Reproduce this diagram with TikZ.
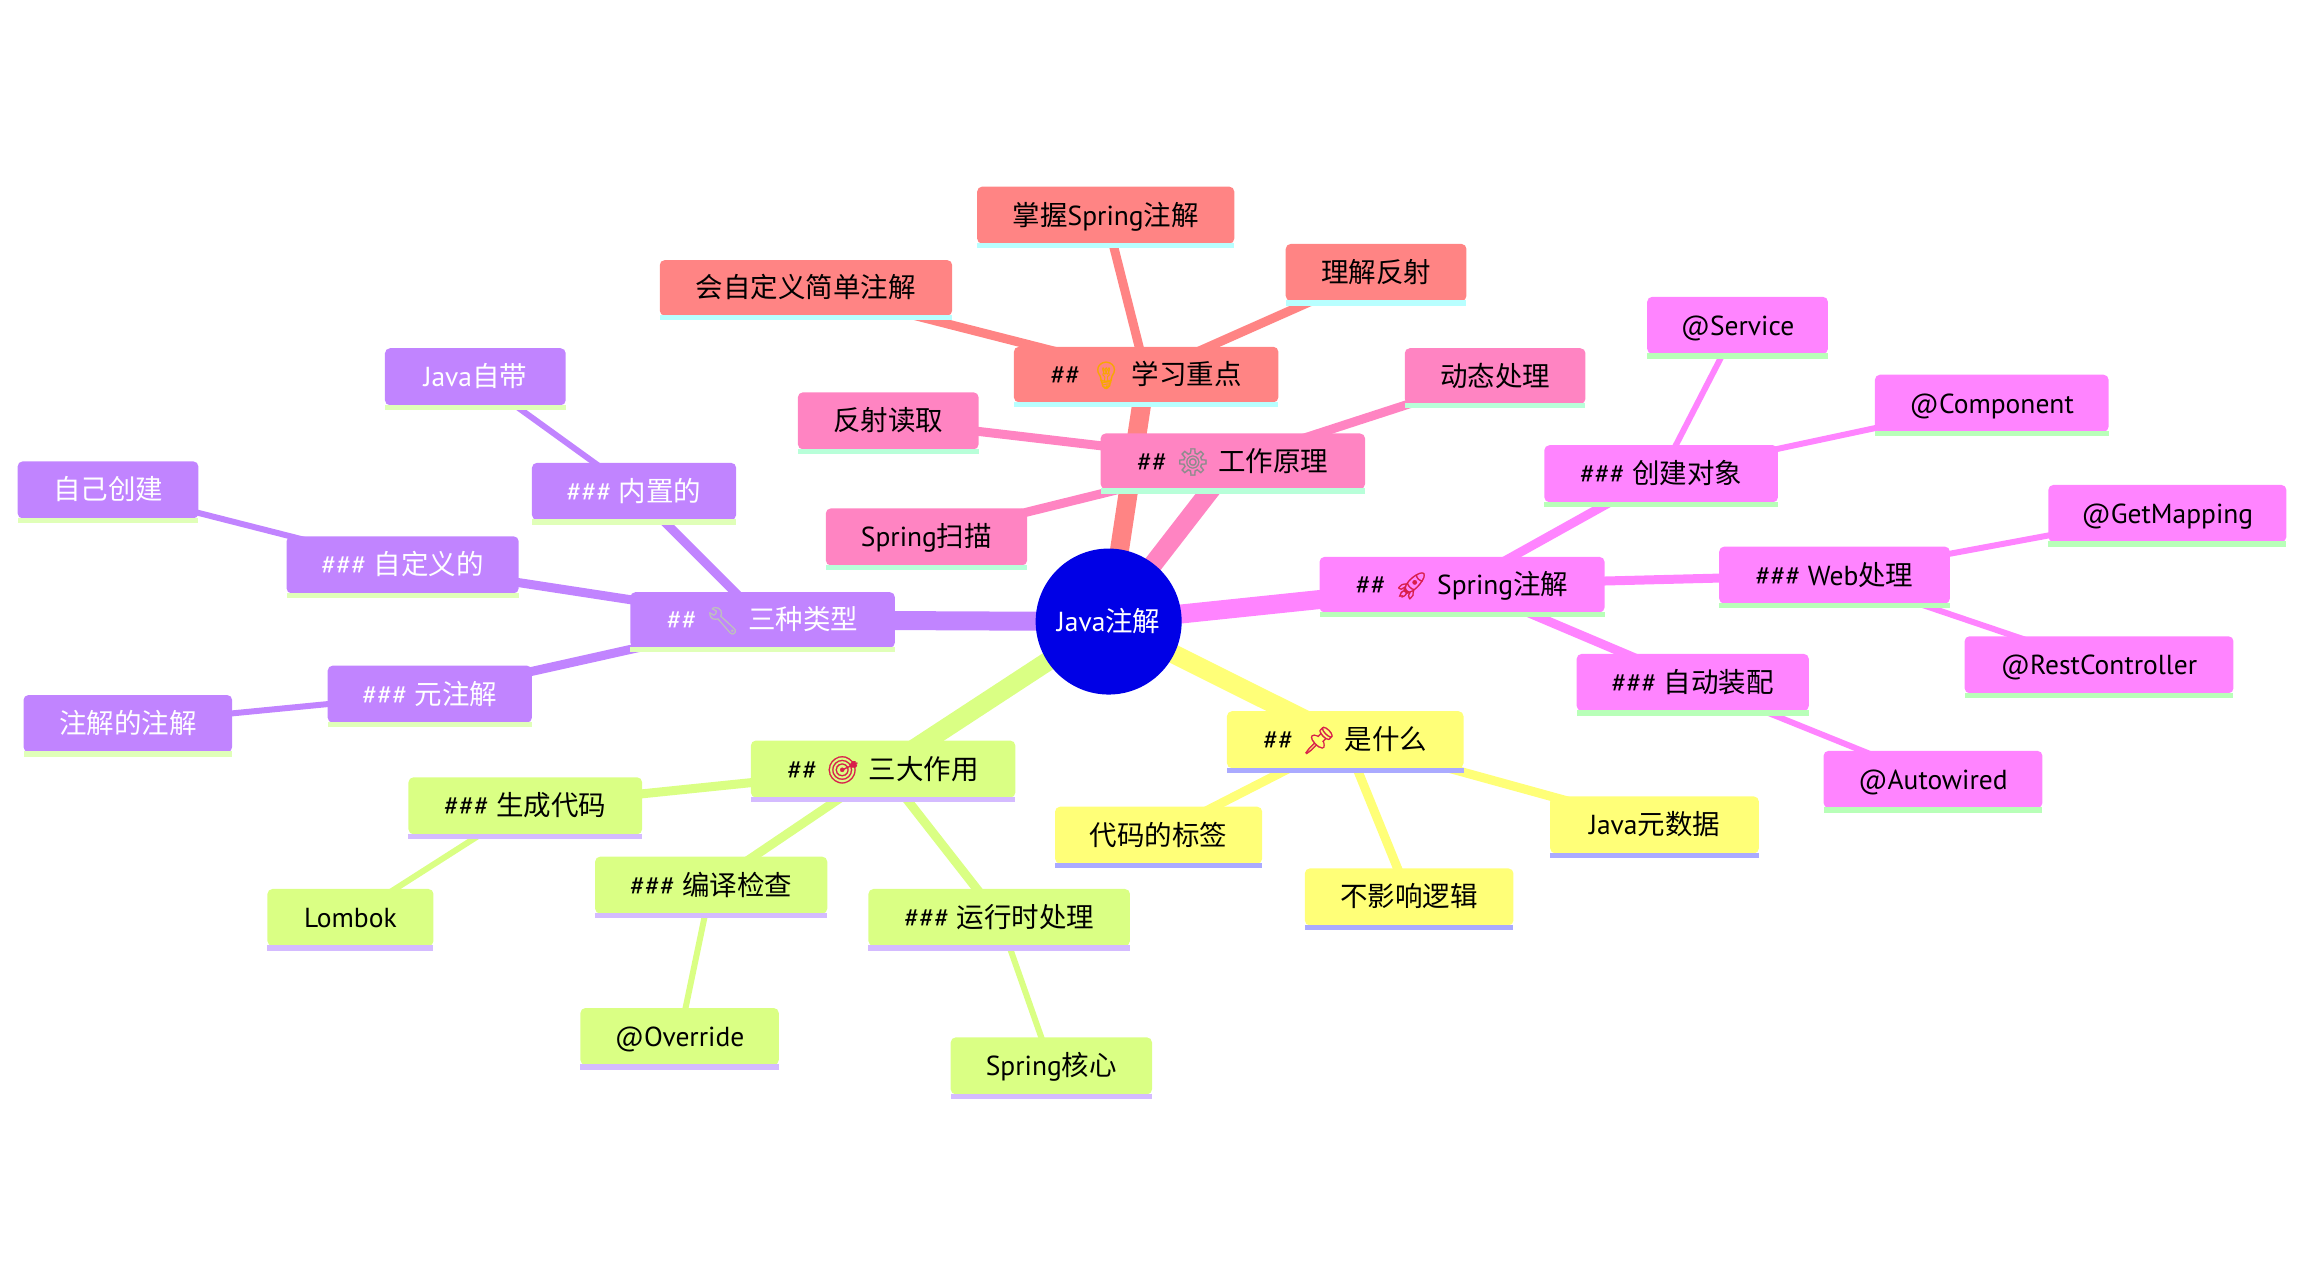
\documentclass[tikz,border=0pt]{standalone}
\usepackage{fontspec}
\setmainfont{PT Sans}
\newfontfamily\cjkfont{Noto Sans CJK SC}
\newfontfamily\emojifont[FakeBold=0.7]{Noto Emoji}
\newcommand{\cj}[1]{{\cjkfont #1}}
\newcommand{\emo}[2]{{\color{#1}\emojifont\fontsize{27pt}{30pt}\selectfont #2}}
\newcommand{\gp}{\hspace{8.5pt}}
\pgfdeclarelayer{bg}
\pgfsetlayers{bg,main}
\definecolor{cRed}{HTML}{FF8484}
\definecolor{cPink}{HTML}{FF84C2}
\definecolor{cMag}{HTML}{FF84FF}
\definecolor{cYel}{HTML}{FFFF78}
\definecolor{cLime}{HTML}{DAFF84}
\definecolor{cPur}{HTML}{C184FF}
\definecolor{bRed}{HTML}{B8FFFF}
\definecolor{bPink}{HTML}{B8FFD9}
\definecolor{bMag}{HTML}{B8FFB8}
\definecolor{bYel}{HTML}{AAAAFF}
\definecolor{bLime}{HTML}{D4BBFF}
\definecolor{bPur}{HTML}{E0FFB8}
\definecolor{cRoot}{HTML}{0000E6}
\definecolor{eBulb}{HTML}{F7A800}
\definecolor{ePin}{HTML}{D81E4A}
\tikzset{
  x=1.46939pt,y=-1.46939pt,
  mmtext/.style={font=\fontsize{27.5pt}{33pt}\selectfont,inner sep=0pt,outer sep=0pt,text height=24pt,text depth=4pt},
  mmbox/.style={mmtext,rounded corners=5pt,text=black},
  e1/.style={line width=19pt,line cap=butt},
  e2/.style={line width=9pt,line cap=butt},
  e3/.style={line width=6pt,line cap=butt},
}
% #1 name, #2 x1, #3 x2, #4 y1, #5 y2 (bar bottom), #6 fill, #7 bar, #8 text colour, #9 text
\newcommand{\mmnode}[9]{%
  \pgfmathsetmacro{\mmw}{(#3-#2)*1.46939}%
  \pgfmathsetmacro{\mmh}{(#5-#4-3.2)*1.46939}%
  \node[mmbox,fill=#6,text=#8,minimum width=\mmw pt,minimum height=\mmh pt]
    (#1) at ({(#2+#3)/2},{(#4+#5-3.2)/2}) {#9};
  \fill[#7] ([yshift=0.6pt]#1.south west) rectangle ([yshift=-4.7pt]#1.south east);
}
\begin{document}
\begin{tikzpicture}
\useasboundingbox (0,0) rectangle (1568,873.83);
\node[circle,fill=cRoot,text=white,mmtext,minimum size=146pt] (root) at (754.5,423) {Java\cj{注解}};
% red
\mmnode{red}{690}{870}{236}{277}{cRed}{bRed}{black}{\#\#\gp\emo{eBulb}{💡}\gp\cj{学习重点}}
\mmnode{red1}{665}{840}{127}{169}{cRed}{bRed}{black}{\cj{掌握}Spring\cj{注解}}
\mmnode{red2}{875}{998}{166}{208}{cRed}{bRed}{black}{\cj{理解反射}}
\mmnode{red3}{449}{648}{177}{218}{cRed}{bRed}{black}{\cj{会自定义简单注解}}
% pink
\mmnode{pink}{749}{929}{295}{336}{cPink}{bPink}{black}{\#\#\gp\emo{black!45}{⚙}\gp\cj{工作原理}}
\mmnode{pink1}{956}{1079}{237}{278}{cPink}{bPink}{black}{\cj{动态处理}}
\mmnode{pink2}{543}{666}{267}{309}{cPink}{bPink}{black}{\cj{反射读取}}
\mmnode{pink3}{562}{699}{346}{388}{cPink}{bPink}{black}{Spring\cj{扫描}}
% magenta
\mmnode{mag}{898}{1092}{379}{420}{cMag}{bMag}{black}{\#\#\gp\emo{ePin}{🚀}\gp Spring\cj{注解}}
\mmnode{magA}{1051}{1210}{303}{345}{cMag}{bMag}{black}{\#\#\#\ \cj{创建对象}}
\mmnode{magA1}{1121}{1244}{202}{244}{cMag}{bMag}{black}{@Service}
\mmnode{magA2}{1276}{1435}{255}{297}{cMag}{bMag}{black}{@Component}
\mmnode{magB}{1170}{1327}{372}{414}{cMag}{bMag}{black}{\#\#\#\ Web\cj{处理}}
\mmnode{magB1}{1394}{1556}{330}{372}{cMag}{bMag}{black}{@GetMapping}
\mmnode{magB2}{1337}{1520}{433}{475}{cMag}{bMag}{black}{@RestController}
\mmnode{magC}{1073}{1231}{445}{487}{cMag}{bMag}{black}{\#\#\#\ \cj{自动装配}}
\mmnode{magC1}{1241}{1390}{511}{553}{cMag}{bMag}{black}{@Autowired}
% yellow
\mmnode{yel}{835}{996}{484}{526}{cYel}{bYel}{black}{\#\#\gp\emo{ePin}{📌}\gp\cj{是什么}}
\mmnode{yel1}{718}{859}{549}{591}{cYel}{bYel}{black}{\cj{代码的标签}}
\mmnode{yel2}{888}{1030}{591}{633}{cYel}{bYel}{black}{\cj{不影响逻辑}}
\mmnode{yel3}{1055}{1197}{542}{584}{cYel}{bYel}{black}{Java\cj{元数据}}
% lime
\mmnode{lim}{511}{691}{504}{546}{cLime}{bLime}{black}{\#\#\gp\emo{ePin}{🎯}\gp\cj{三大作用}}
\mmnode{limA}{278}{437}{529}{571}{cLime}{bLime}{black}{\#\#\#\ \cj{生成代码}}
\mmnode{limA1}{182}{295}{605}{647}{cLime}{bLime}{black}{Lombok}
\mmnode{limB}{405}{563}{583}{625}{cLime}{bLime}{black}{\#\#\#\ \cj{编译检查}}
\mmnode{limB1}{395}{530}{686}{728}{cLime}{bLime}{black}{@Override}
\mmnode{limC}{591}{769}{605}{647}{cLime}{bLime}{black}{\#\#\#\ \cj{运行时处理}}
\mmnode{limC1}{647}{784}{706}{748}{cLime}{bLime}{black}{Spring\cj{核心}}
% purple
\mmnode{pur}{429}{609}{403}{444}{cPur}{bPur}{white}{\#\#\gp\emo{black!25}{🔧}\gp\cj{三种类型}}
\mmnode{purA}{362}{501}{315}{357}{cPur}{bPur}{white}{\#\#\#\ \cj{内置的}}
\mmnode{purA1}{262}{385}{237}{279}{cPur}{bPur}{white}{Java\cj{自带}}
\mmnode{purB}{195}{353}{365}{407}{cPur}{bPur}{white}{\#\#\#\ \cj{自定义的}}
\mmnode{purB1}{12}{135}{314}{356}{cPur}{bPur}{white}{\cj{自己创建}}
\mmnode{purC}{223}{362}{453}{495}{cPur}{bPur}{white}{\#\#\#\ \cj{元注解}}
\mmnode{purC1}{16}{158}{473}{515}{cPur}{bPur}{white}{\cj{注解的注解}}
\begin{pgfonlayer}{bg}
\draw[e1,cRed] (root.center) -- (red.center);
\draw[e2,cRed] (red.center) -- (red1.center);
\draw[e2,cRed] (red.center) -- (red2.center);
\draw[e2,cRed] (red.center) -- (red3.center);
\draw[e1,cPink] (root.center) -- (pink.center);
\draw[e2,cPink] (pink.center) -- (pink1.center);
\draw[e2,cPink] (pink.center) -- (pink2.center);
\draw[e2,cPink] (pink.center) -- (pink3.center);
\draw[e1,cMag] (root.center) -- (mag.center);
\draw[e2,cMag] (mag.center) -- (magA.center);
\draw[e2,cMag] (mag.center) -- (magB.center);
\draw[e2,cMag] (mag.center) -- (magC.center);
\draw[e3,cMag] (magA.center) -- (magA1.center);
\draw[e3,cMag] (magA.center) -- (magA2.center);
\draw[e3,cMag] (magB.center) -- (magB1.center);
\draw[e3,cMag] (magB.center) -- (magB2.center);
\draw[e3,cMag] (magC.center) -- (magC1.center);
\draw[e1,cYel] (root.center) -- (yel.center);
\draw[e2,cYel] (yel.center) -- (yel1.center);
\draw[e2,cYel] (yel.center) -- (yel2.center);
\draw[e2,cYel] (yel.center) -- (yel3.center);
\draw[e1,cLime] (root.center) -- (lim.center);
\draw[e2,cLime] (lim.center) -- (limA.center);
\draw[e2,cLime] (lim.center) -- (limB.center);
\draw[e2,cLime] (lim.center) -- (limC.center);
\draw[e3,cLime] (limA.center) -- (limA1.center);
\draw[e3,cLime] (limB.center) -- (limB1.center);
\draw[e3,cLime] (limC.center) -- (limC1.center);
\draw[e1,cPur] (root.center) -- (pur.center);
\draw[e2,cPur] (pur.center) -- (purA.center);
\draw[e2,cPur] (pur.center) -- (purB.center);
\draw[e2,cPur] (pur.center) -- (purC.center);
\draw[e3,cPur] (purA.center) -- (purA1.center);
\draw[e3,cPur] (purB.center) -- (purB1.center);
\draw[e3,cPur] (purC.center) -- (purC1.center);
\end{pgfonlayer}
\end{tikzpicture}
\end{document}
